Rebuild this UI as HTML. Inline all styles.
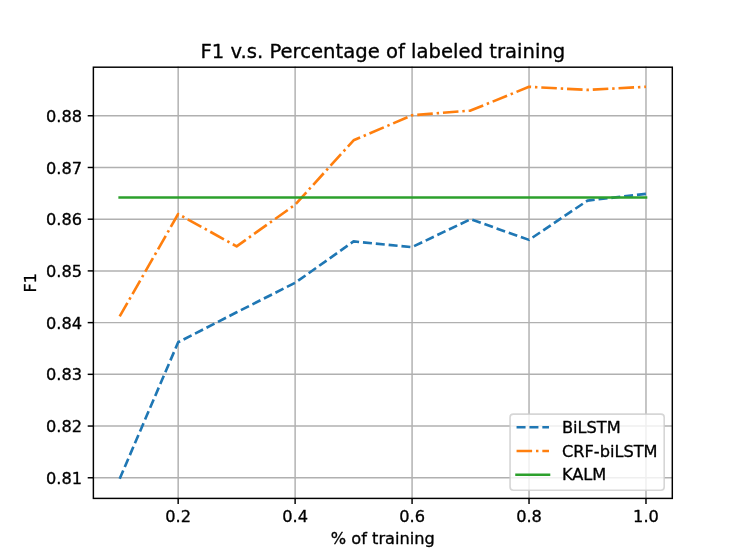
<!DOCTYPE html>
<html lang="en">
<head>
<meta charset="utf-8">
<title>F1 v.s. Percentage of labeled training</title>
<style>
html,body{margin:0;padding:0;background:#fff;}
body{width:747px;height:560px;overflow:hidden;font-family:"DejaVu Sans","Liberation Sans",sans-serif;}
svg{display:block;}
svg *{stroke-linejoin:round;stroke-linecap:butt;}
.bg{fill:#fff;}
text{font-family:"DejaVu Sans","Liberation Sans",sans-serif;font-size:10px;fill:#000;stroke:#000;stroke-width:0.2;}
.grid line{stroke:#b0b0b0;stroke-width:0.9;stroke-linecap:square;}
.ticks line{stroke:#000;stroke-width:0.9;}
.xlab text,.axl,.title{text-anchor:middle;}
.ylab text{text-anchor:end;}
.title{font-size:12.107px;}
.spine{fill:none;stroke:#000;stroke-width:0.9;stroke-linejoin:miter;}
polyline{fill:none;stroke-width:1.62;}
.s1{stroke:#1f77b4;stroke-dasharray:5.55,2.4;}
.s2{stroke:#ff7f0e;stroke-dasharray:9.6,2.4,1.5,2.4;}
.s3{stroke:#2ca02c;stroke-linecap:square;}
.lbox{fill:#fff;fill-opacity:0.8;stroke:#ccc;stroke-opacity:0.8;stroke-width:1;stroke-linejoin:miter;}
</style>
</head>
<body>
<svg width="747" height="560" viewBox="0 0 460.8 345.6" preserveAspectRatio="none" role="img" aria-label="F1 v.s. Percentage of labeled training">
<defs><clipPath id="axclip"><rect x="57.6" y="41.472" width="357.12" height="266.112"/></clipPath></defs>
<rect class="bg" x="0" y="0" width="460.8" height="345.6"/>
<g class="grid">
<line x1="109.905" y1="307.584" x2="109.905" y2="41.472"/>
<line x1="182.051" y1="307.584" x2="182.051" y2="41.472"/>
<line x1="254.196" y1="307.584" x2="254.196" y2="41.472"/>
<line x1="326.342" y1="307.584" x2="326.342" y2="41.472"/>
<line x1="398.487" y1="307.584" x2="398.487" y2="41.472"/>
<line x1="57.6" y1="294.85" x2="414.72" y2="294.85"/>
<line x1="57.6" y1="262.934" x2="414.72" y2="262.934"/>
<line x1="57.6" y1="231.019" x2="414.72" y2="231.019"/>
<line x1="57.6" y1="199.103" x2="414.72" y2="199.103"/>
<line x1="57.6" y1="167.187" x2="414.72" y2="167.187"/>
<line x1="57.6" y1="135.272" x2="414.72" y2="135.272"/>
<line x1="57.6" y1="103.356" x2="414.72" y2="103.356"/>
<line x1="57.6" y1="71.441" x2="414.72" y2="71.441"/>
</g>
<g class="ticks">
<line x1="109.905" y1="307.584" x2="109.905" y2="311.084"/>
<line x1="182.051" y1="307.584" x2="182.051" y2="311.084"/>
<line x1="254.196" y1="307.584" x2="254.196" y2="311.084"/>
<line x1="326.342" y1="307.584" x2="326.342" y2="311.084"/>
<line x1="398.487" y1="307.584" x2="398.487" y2="311.084"/>
<line x1="54.1" y1="294.85" x2="57.6" y2="294.85"/>
<line x1="54.1" y1="262.934" x2="57.6" y2="262.934"/>
<line x1="54.1" y1="231.019" x2="57.6" y2="231.019"/>
<line x1="54.1" y1="199.103" x2="57.6" y2="199.103"/>
<line x1="54.1" y1="167.187" x2="57.6" y2="167.187"/>
<line x1="54.1" y1="135.272" x2="57.6" y2="135.272"/>
<line x1="54.1" y1="103.356" x2="57.6" y2="103.356"/>
<line x1="54.1" y1="71.441" x2="57.6" y2="71.441"/>
</g>
<g class="xlab">
<text x="109.905" y="322.182">0.2</text>
<text x="182.051" y="322.182">0.4</text>
<text x="254.196" y="322.182">0.6</text>
<text x="326.342" y="322.182">0.8</text>
<text x="398.487" y="322.182">1.0</text>
</g>
<g class="ylab">
<text x="50.6" y="298.649">0.81</text>
<text x="50.6" y="266.733">0.82</text>
<text x="50.6" y="234.818">0.83</text>
<text x="50.6" y="202.902">0.84</text>
<text x="50.6" y="170.986">0.85</text>
<text x="50.6" y="139.071">0.86</text>
<text x="50.6" y="107.155">0.87</text>
<text x="50.6" y="75.24">0.88</text>
</g>
<text class="axl" x="236.16" y="335.861">% of training</text>
<text class="axl" x="22.255" y="174.528" transform="rotate(-90 22.255 174.528)">F1</text>
<g class="data" clip-path="url(#axclip)">
<polyline class="s1" points="73.833,295.488 109.905,211.231 145.978,192.72 182.051,174.528 218.124,148.996 254.196,152.506 290.269,135.272 326.342,148.038 362.415,123.782 398.487,119.633"/>
<polyline class="s2" points="73.833,195.273 109.905,132.08 145.978,152.028 182.051,126.335 218.124,86.601 254.196,71.122 290.269,68.249 326.342,53.568 362.415,55.483 398.487,53.568"/>
<polyline class="s3" points="73.833,121.867 109.905,121.867 145.978,121.867 182.051,121.867 218.124,121.867 254.196,121.867 290.269,121.867 326.342,121.867 362.415,121.867 398.487,121.867"/>
</g>
<rect class="spine" x="57.6" y="41.472" width="357.12" height="266.112"/>
<text class="title" x="236.16" y="35.78">F1 v.s. Percentage of labeled training</text>
<g class="legend">
<rect class="lbox" x="314.647" y="255.55" width="95.073" height="47.034" rx="2" ry="2"/>
<polyline class="s1" points="318.647,263.648 338.647,263.648"/>
<text x="346.647" y="267.148">BiLSTM</text>
<polyline class="s2" points="318.647,278.326 338.647,278.326"/>
<text x="346.647" y="281.826">CRF-biLSTM</text>
<polyline class="s3" points="318.647,293.004 338.647,293.004"/>
<text x="346.647" y="296.504">KALM</text>
</g>
</svg>
</body>
</html>
